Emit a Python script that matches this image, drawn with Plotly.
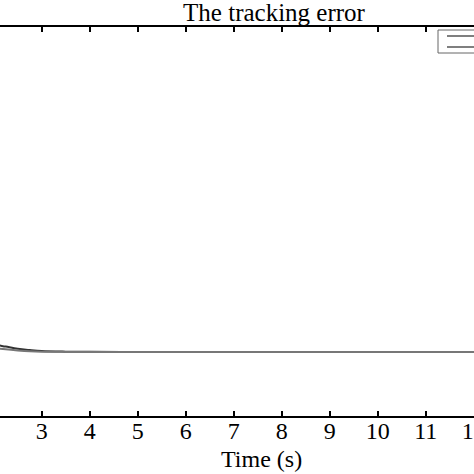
import plotly.graph_objects as go

# Data (read / estimated from the reference)
time = [0, 0.5, 1.0, 1.5, 2.0, 2.25, 2.5, 2.75, 3.0, 3.5, 4.0, 5.0, 6.0, 8.0, 10.0, 12.0, 13.0]
e1 = [1.2, 0.8, 0.45, 0.22, 0.12, 0.085, 0.05, 0.03, 0.015, 0.006, 0.003, 0.001, 0, 0, 0, 0, 0]
e2 = [0.9, 0.5, 0.25, 0.12, 0.065, 0.042, 0.025, 0.012, 0.005, 0.002, 0.001, 0, 0, 0, 0, 0, 0]
series_names = ["e1", "e2"]
x_ticks = [2, 3, 4, 5, 6, 7, 8, 9, 10, 11, 12, 13]

W, H = 474, 474
top, bottom = 27, 416
FONT = "Liberation Serif, Times New Roman, serif"

fig = go.Figure()
fig.add_trace(go.Scatter(x=time, y=e1, mode="lines", name=series_names[0],
                         line=dict(color="#333333", width=2, shape="spline")))
fig.add_trace(go.Scatter(x=time, y=e2, mode="lines", name=series_names[1],
                         line=dict(color="#777777", width=2, shape="spline")))

def py(p):
    return (bottom - p) / (bottom - top)

# legend box (partially visible, as in the reference)
fig.add_shape(type="rect", xref="paper", yref="paper",
              x0=438 / W, x1=1.2, y0=py(53), y1=py(30),
              line=dict(color="#666666", width=1), fillcolor="white")
for yy in (36, 47):
    fig.add_shape(type="line", xref="paper", yref="paper",
                  x0=447 / W, x1=1.2, y0=py(yy), y1=py(yy),
                  line=dict(color="#555555", width=1.5))

fig.add_annotation(text="Time (s)", xref="paper", yref="paper",
                   x=261 / W, y=py(474), xanchor="center", yanchor="bottom",
                   showarrow=False, font=dict(family=FONT, size=24, color="black"))

fig.update_layout(
    width=W, height=H,
    margin=dict(l=0, r=0, t=top, b=H - bottom, autoexpand=False),
    paper_bgcolor="white", plot_bgcolor="white",
    showlegend=False,
    title=dict(text="The tracking error", x=274 / W, xanchor="center",
               y=1, yref="container", yanchor="top", pad=dict(t=3),
               font=dict(family=FONT, size=25, color="black")),
    font=dict(family=FONT, size=24, color="black"),
)
fig.update_xaxes(range=[2.131, 12.006], tickvals=x_ticks, ticks="inside",
                 ticklen=5, tickwidth=2, tickcolor="black",
                 showline=True, linecolor="black", linewidth=2, mirror="ticks",
                 showgrid=False, zeroline=False, ticklabeloverflow="allow",
                 ticklabelstandoff=-8,
                 tickfont=dict(family=FONT, size=24, color="black"))
fig.update_yaxes(range=[-1, 5.08], visible=False, showgrid=False, zeroline=False)

fig.write_html("out.html")
